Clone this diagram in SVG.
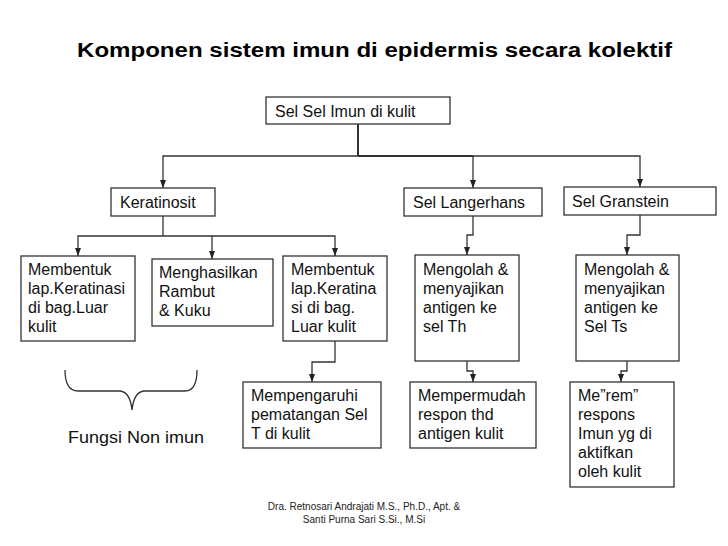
<svg xmlns="http://www.w3.org/2000/svg" width="728" height="546" viewBox="0 0 728 546">
<defs>
<style>
.box{fill:#fff;stroke:#333;stroke-width:1.3}
.t{font-family:"Liberation Sans",Arial,sans-serif;font-size:16px;fill:#111}
.c{fill:none;stroke:#333;stroke-width:1.3}
.title{font-family:"Liberation Sans",Arial,sans-serif;font-size:20px;font-weight:bold;fill:#000}
.foot{font-family:"Liberation Sans",Arial,sans-serif;font-size:10px;fill:#222}
</style>
<marker id="ah" markerUnits="userSpaceOnUse" markerWidth="8" markerHeight="8" viewBox="0 0 8 8" refX="8" refY="4" orient="auto">
<path d="M0,1 L8,4 L0,7 z" fill="#222"/>
</marker>
</defs>
<rect width="728" height="546" fill="#fff"/>
<text class="title" x="77" y="57" textLength="595" lengthAdjust="spacingAndGlyphs">Komponen sistem imun di epidermis secara kolektif</text>

<g id="connectors">
<path class="c" style="stroke-width:2" d="M358,124 V156"/>
<path class="c" d="M358,156 H163 V188" marker-end="url(#ah)"/>
<path class="c" style="stroke-width:2" d="M358,156 H473"/>
<path class="c" d="M473,156 V188" marker-end="url(#ah)"/>
<path class="c" d="M473,156 H640 V187" marker-end="url(#ah)"/>
<path class="c" d="M163,216 V236"/>
<path class="c" d="M163,236 H78 V256" marker-end="url(#ah)"/>
<path class="c" d="M163,236 H212 V259" marker-end="url(#ah)"/>
<path class="c" d="M212,236 H335 V256" marker-end="url(#ah)"/>
<path class="c" d="M473,216 V235 H467 V255" marker-end="url(#ah)"/>
<path class="c" d="M640,215 V235 H627 V255" marker-end="url(#ah)"/>
<path class="c" d="M335,341 V362 H312 V382" marker-end="url(#ah)"/>
<path class="c" d="M467,361 V371 H473 V382" marker-end="url(#ah)"/>
<path class="c" d="M627,361 V371 H621 V382" marker-end="url(#ah)"/>
</g>

<g id="root">
<rect class="box" x="266" y="97" width="184" height="27"/>
<text class="t" x="275" y="117">Sel Sel Imun di kulit</text>
</g>
<g id="keratinosit">
<rect class="box" x="111" y="188" width="104" height="28"/>
<text class="t" x="120" y="208">Keratinosit</text>
</g>
<g id="langerhans">
<rect class="box" x="404" y="188" width="138" height="28"/>
<text class="t" x="413" y="208">Sel Langerhans</text>
</g>
<g id="granstein">
<rect class="box" x="564" y="187" width="152" height="28"/>
<text class="t" x="572" y="207">Sel Granstein</text>
</g>

<g id="membentuk1">
<rect class="box" x="21" y="256" width="114" height="85"/>
<text class="t" x="28" y="275">Membentuk</text>
<text class="t" x="28" y="294">lap.Keratinasi</text>
<text class="t" x="28" y="313">di bag.Luar</text>
<text class="t" x="28" y="332">kulit</text>
</g>
<g id="menghasilkan">
<rect class="box" x="152" y="259" width="121" height="67"/>
<text class="t" x="159" y="278">Menghasilkan</text>
<text class="t" x="159" y="297">Rambut</text>
<text class="t" x="159" y="316">&amp; Kuku</text>
</g>
<g id="membentuk2">
<rect class="box" x="283" y="256" width="104" height="85"/>
<text class="t" x="291" y="275">Membentuk</text>
<text class="t" x="291" y="294">lap.Keratina</text>
<text class="t" x="291" y="313">si di bag.</text>
<text class="t" x="291" y="332">Luar kulit</text>
</g>
<g id="mengolah1">
<rect class="box" x="415" y="255" width="104" height="106"/>
<text class="t" x="423" y="275">Mengolah &amp;</text>
<text class="t" x="423" y="294">menyajikan</text>
<text class="t" x="423" y="313">antigen ke</text>
<text class="t" x="423" y="332">sel Th</text>
</g>
<g id="mengolah2">
<rect class="box" x="576" y="255" width="103" height="106"/>
<text class="t" x="584" y="275">Mengolah &amp;</text>
<text class="t" x="584" y="294">menyajikan</text>
<text class="t" x="584" y="313">antigen ke</text>
<text class="t" x="584" y="332">Sel Ts</text>
</g>
<g id="mempengaruhi">
<rect class="box" x="243" y="382" width="138" height="66"/>
<text class="t" x="251" y="401">Mempengaruhi</text>
<text class="t" x="251" y="420">pematangan Sel</text>
<text class="t" x="251" y="439">T di kulit</text>
</g>
<g id="mempermudah">
<rect class="box" x="410" y="382" width="126" height="66"/>
<text class="t" x="418" y="401">Mempermudah</text>
<text class="t" x="418" y="420">respon thd</text>
<text class="t" x="418" y="439">antigen kulit</text>
</g>
<g id="merem">
<rect class="box" x="570" y="382" width="104" height="105"/>
<text class="t" x="578" y="401">Me”rem”</text>
<text class="t" x="578" y="420">respons</text>
<text class="t" x="578" y="439">Imun yg di</text>
<text class="t" x="578" y="458">aktifkan</text>
<text class="t" x="578" y="477">oleh kulit</text>
</g>

<g id="brace">
<path class="c" d="M65,370 Q65,391 78,391 H119 Q130,391 132,410 Q134,391 145,391 H185 Q197,391 197,370"/>
<text class="t" x="68" y="443" style="font-size:17px" textLength="136" lengthAdjust="spacingAndGlyphs">Fungsi Non imun</text>
</g>

<g id="footer">
<text class="foot" x="364" y="510" text-anchor="middle">Dra. Retnosari Andrajati M.S., Ph.D., Apt. &amp;</text>
<text class="foot" x="364" y="523" text-anchor="middle">Santi Purna Sari S.Si., M.Si</text>
</g>
</svg>
